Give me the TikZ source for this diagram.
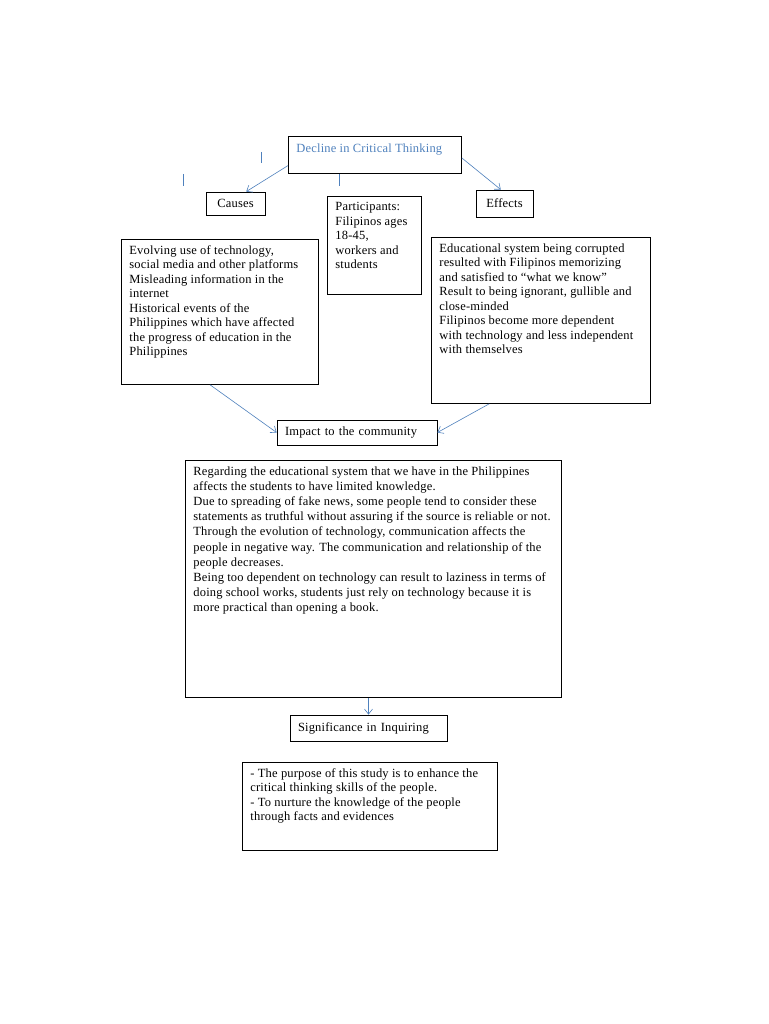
\documentclass[tikz,border=0pt]{standalone}
\usepackage{fontspec}
\setmainfont{Liberation Serif}[LetterSpace=1.5]
\usetikzlibrary{arrows.meta,calc}
\definecolor{wordblue}{RGB}{79,129,189}
\newcommand{\topbox}[3]{\parbox[t][#2][t]{#1}{\raggedright #3}}

\begin{document}
\begin{tikzpicture}[x=1pt,y=-1pt,
      font=\fontsize{12.5}{14.5}\selectfont,
      box/.style={draw,line width=0.8pt,anchor=north west,inner xsep=8pt,inner ysep=6pt},
      smallbox/.style={draw,line width=0.8pt,inner xsep=8pt,inner ysep=2pt},
      link/.style={wordblue,line width=0.6pt,-{Straight Barb[length=5pt,width=8pt]}},
      stray/.style={wordblue,line width=0.6pt}]
      \useasboundingbox[fill=white] (0,0) rectangle (768,1024);
      % top row
      \node[box,inner ysep=7pt] (title) at (288,136)
        {\topbox{157pt}{23pt}{\color{wordblue}Decline in Critical Thinking}};
      \node[smallbox,minimum width=59pt,minimum height=23pt] (causes) at (235.5,203.5) {Causes};
      \node[smallbox,minimum width=57pt,minimum height=27pt] (effects) at (504.5,203.5) {Effects};
      \node[box] (partic) at (327,196)
        {\topbox{78pt}{86pt}{Participants:\\ Filipinos ages\\ 18-45,\\ workers and\\ students}};
      % causes and effects
      \node[box] (causestxt) at (121,239)
        {\topbox{181pt}{133pt}{Evolving use of technology,\\ social media and other platforms\\
         Misleading information in the\\ internet\\ Historical events of the\\
         Philippines which have affected\\ the progress of education in the\\ Philippines}};
      \node[box] (effectstxt) at (431,237)
        {\topbox{203pt}{154pt}{Educational system being corrupted\\ resulted with Filipinos memorizing\\
         and satisfied to “what we know”\\ Result to being ignorant, gullible and\\ close-minded\\
         Filipinos become more dependent\\ with technology and less independent\\ with themselves}};
      % impact
      \node[smallbox,text width=144pt,align=left,minimum height=25pt] (impact) at (357,432.5)
        {Impact to the community};
      \node[box] (bigbox) at (185,460)
        {\topbox{360pt}{225pt}{\baselineskip=15.2pt
         Regarding the educational system that we have in the Philippines\\
         affects the students to have limited knowledge.\\
         Due to spreading of fake news, some people tend to consider these\\
         statements as truthful without assuring if the source is reliable or not.\\
         Through the evolution of technology, communication affects the\\
         people in negative way. The communication and relationship of the\\
         people decreases.\\
         Being too dependent on technology can result to laziness in terms of\\
         doing school works, students just rely on technology because it is\\
         more practical than opening a book.}};
      % significance
      \node[smallbox,text width=141pt,align=left,minimum height=26pt] (signif) at (368.5,728)
        {Significance in Inquiring};
      \node[box] (purpose) at (242,762)
        {\topbox{239pt}{76pt}{- The purpose of this study is to enhance the\\
         critical thinking skills of the people.\\
         - To nurture the knowledge of the people\\ through facts and evidences}};

      \draw[link] (title.187) -- (causes.48);
      \draw[link] (title.-2) -- (effects.105);
      \coordinate (tick) at (339,186);
      \draw[stray] (tick |- title.south) -- (tick);
      \draw[stray] (261,152) -- (261,163);
      \draw[stray] (183,174) -- (183,186);
      \draw[link] ($(causestxt.south west)!0.45!(causestxt.south east)$) -- (impact.west);
      \draw[link] ($(effectstxt.south west)!0.265!(effectstxt.south east)$) -- (impact.east);
      \draw[link] (bigbox.south -| signif.north) -- (signif.north);
\end{tikzpicture}
\end{document}
